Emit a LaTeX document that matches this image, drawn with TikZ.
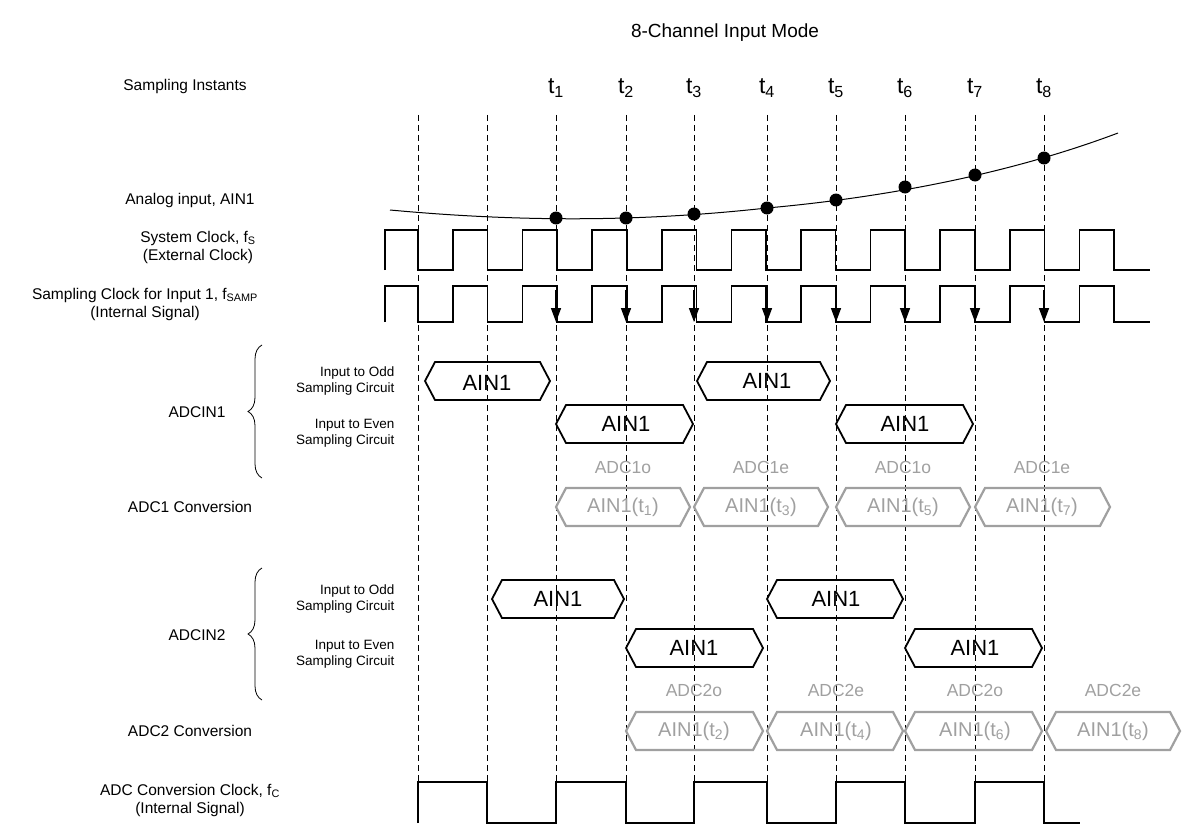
\documentclass[tikz,border=0pt]{standalone}
\usepackage{fontspec}
\setmainfont{Liberation Sans}
\usetikzlibrary{decorations.pathreplacing,arrows.meta}
\definecolor{lg}{RGB}{160,160,160}
\newcommand\sub[1]{\textsubscript{#1}}
\begin{document}
\begin{tikzpicture}[x=1pt,y=-1pt,
  lbl/.style={font=\fontsize{15.5}{18}\selectfont,align=center},
  sml/.style={font=\fontsize{13.5}{16}\selectfont,align=right,anchor=east},
  hx/.style={line width=1.8pt,line join=miter},
  gh/.style={line width=2.2pt,draw=lg},
  ht/.style={font=\fontsize{22}{24}\selectfont},
  gt/.style={font=\fontsize{20}{22}\selectfont,text=lg},
  gl/.style={font=\fontsize{17.5}{20}\selectfont,text=lg},
  wave/.style={line width=1.5pt},
  brc/.style={line width=0.8pt,decorate,decoration={brace,amplitude=14pt,aspect=0.5}},
  dsh/.style={dash pattern=on 6pt off 4pt,line width=0.7pt}]
\useasboundingbox (0,0) rectangle (1188,832);
\node[font=\fontsize{19}{21}\selectfont] (title) at (725,33) {8-Channel Input Mode};
% dashed lines
\foreach \x in {418,487,556,626,694,767,836,905,975,1044}
  \draw[dsh] (\x,115) -- (\x,820);
% labels
\node[lbl] (si) at (185,86) {Sampling Instants};
\node[lbl] (ai) at (190,200) {Analog input, AIN1};
\node[lbl] (sc) at (198,247) {System Clock, f\sub{S}\\(External Clock)};
\node[lbl] (sp) at (145,304) {Sampling Clock for Input 1, f\sub{SAMP}\\(Internal Signal)};
\node[lbl] (a1) at (197,412) {ADCIN1};
\node[lbl] (c1) at (190,507) {ADC1 Conversion};
\node[lbl] (a2) at (197,635) {ADCIN2};
\node[lbl] (c2) at (190,731) {ADC2 Conversion};
\node[lbl] (cc) at (190,800) {ADC Conversion Clock, f\sub{C}\\(Internal Signal)};
\node[sml] (o1) at (398,381) {Input to Odd\\Sampling Circuit};
\node[sml] (e1) at (398,433) {Input to Even\\Sampling Circuit};
\node[sml] (o2) at (398,599) {Input to Odd\\Sampling Circuit};
\node[sml] (e2) at (398,654) {Input to Even\\Sampling Circuit};
\draw[brc] (262,478) -- (262,345);
\draw[brc] (262,700) -- (262,568);
% t labels
\foreach \x/\i in {556/1,626/2,694/3,767/4,836/5,905/6,975/7,1044/8}
  \node[font=\fontsize{23}{25}\selectfont] (t\i) at (\x,88) {t\sub{\i}};
% analog curve
\draw[line width=1pt] (390,210) .. controls (520,222) and (640,222) .. (767,208)
  .. controls (900,196) and (1020,170) .. (1118,133);
\foreach \x/\y in {556/218,626/218,694/214,767/208,836/200,905/187,975/175,1044/158}
  \fill (\x,\y) circle (6.5pt);
% system clock
\draw[wave] (385,270) -- (385,230)
  \foreach \k in {0,...,9} { -- ({418+69.6*\k},230) -- ({418+69.6*\k},270) -- ({453+69.6*\k},270) -- ({453+69.6*\k},230)}
  -- (1114,230) -- (1114,270) -- (1150,270);
% sampling clock
\draw[wave] (385,322) -- (385,286)
  \foreach \k in {0,...,9} { -- ({418+69.6*\k},286) -- ({418+69.6*\k},322) -- ({453+69.6*\k},322) -- ({453+69.6*\k},286)}
  -- (1114,286) -- (1114,322) -- (1150,322);
\foreach \x in {556,626,694,767,836,905,975,1044}
  \draw[line width=1.5pt,-{Triangle[length=14pt,width=10pt]}] (\x,290) -- (\x,322);
% conversion clock
\draw[wave] (418,823) -- (418,782) -- (487,782) -- (487,823) -- (556,823) -- (556,782) -- (626,782) -- (626,823)
  -- (694,823) -- (694,782) -- (767,782) -- (767,823) -- (836,823) -- (836,782) -- (905,782) -- (905,823)
  -- (975,823) -- (975,782) -- (1044,782) -- (1044,823) -- (1080,823);
% hexagons
\newcommand\hexa[4]{\draw[#4] (#1,#3) -- (#1+10,#3-19) -- (#2-10,#3-19) -- (#2,#3) -- (#2-10,#3+19) -- (#1+10,#3+19) -- cycle;}
\hexa{425}{550}{381}{hx} \node[ht] (h1) at (487,383) {AIN1};
\hexa{697}{830}{381}{hx} \node[ht] (h2) at (767,381) {AIN1};
\hexa{556}{693}{424}{hx} \node[ht] (h3) at (626,424) {AIN1};
\hexa{836}{973}{424}{hx} \node[ht] (h4) at (905,424) {AIN1};
\hexa{492}{624}{599}{hx} \node[ht] (h5) at (558,599) {AIN1};
\hexa{767}{903}{599}{hx} \node[ht] (h6) at (836,599) {AIN1};
\hexa{626}{763}{648}{hx} \node[ht] (h7) at (694,648) {AIN1};
\hexa{905}{1042}{648}{hx} \node[ht] (h8) at (975,648) {AIN1};
% gray ADC1
\foreach \a/\b/\c/\t/\l [count=\n] in {556/690/623/1/ADC1o,694/828/761/3/ADC1e,836/970/903/5/ADC1o,975/1110/1042/7/ADC1e}{
  \hexa{\a}{\b}{507}{gh}
  \node[gt] (g1\n) at (\c,507) {AIN1(t\sub{\t})};
  \node[gl] (l1\n) at (\c,467) {\l};}
\foreach \a/\b/\c/\t/\l [count=\n] in {626/763/694/2/ADC2o,767/903/836/4/ADC2e,905/1042/975/6/ADC2o,1046/1180/1113/8/ADC2e}{
  \hexa{\a}{\b}{731}{gh}
  \node[gt] (g2\n) at (\c,731) {AIN1(t\sub{\t})};
  \node[gl] (l2\n) at (\c,690) {\l};}
\end{tikzpicture}
\end{document}
